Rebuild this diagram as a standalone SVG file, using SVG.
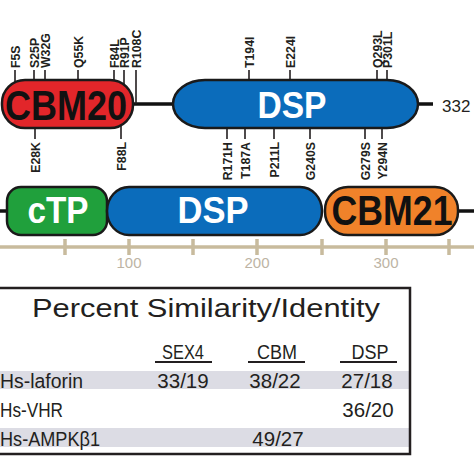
<svg xmlns="http://www.w3.org/2000/svg" width="474" height="474" viewBox="0 0 474 474">
<style>
.lbl{font-family:"Liberation Sans",Arial,sans-serif;font-weight:bold;font-size:12.3px;fill:#231f20}
.tick{stroke:#231f20;stroke-width:1.6;fill:none}
.conn{stroke:#111;stroke-width:3.5;fill:none}
.dom{stroke:#1a1a1a;stroke-width:2.5}
.big{font-family:"Liberation Sans",Arial,sans-serif;font-weight:bold;text-anchor:middle}
.axis{stroke:#c8bb9d;stroke-width:3.5;fill:none}
.axt{font-family:"Liberation Sans",Arial,sans-serif;font-size:15px;fill:#bdb4a4;text-anchor:middle}
.tb{font-family:"Liberation Sans",Arial,sans-serif;font-size:20.5px;fill:#231f20}
.title{font-family:"Liberation Sans",Arial,sans-serif;font-size:26px;fill:#231f20;text-anchor:middle}
.c{text-anchor:middle}
.ul{stroke:#231f20;stroke-width:1.8}
</style>

<g id="connectors">
  <line class="conn" x1="130" y1="104" x2="178" y2="104"/>
  <line class="conn" x1="415" y1="104" x2="433" y2="104"/>
  <line class="conn" x1="0" y1="211" x2="10" y2="211"/>
  <line class="conn" x1="455" y1="211" x2="474" y2="211"/>
</g>

<g id="mutation-ticks">
  <path class="tick" d="M15 70V100M34 70V100M45 70V100M78 70V100M114 70V100M124 70V100M136 70V104M249 70V100M290 70V100M377 70V100M387 70V100"/>
  <path class="tick" d="M35 108V139M121 108V139M227 108V139M245 108V139M274 108V139M310 108V139M365 108V139M382 108V139"/>
</g>

<g id="CBM20">
  <rect class="dom" x="2" y="80" width="131" height="48" rx="23" fill="#e2262a"/>
  <text class="big" x="66" y="120" font-size="43" fill="#111" textLength="122" lengthAdjust="spacingAndGlyphs">CBM20</text>
</g>

<g id="DSP-top">
  <path class="dom" fill="#0b6cbb" d="M205 80H387A31 24 0 0 1 387 128H205A32 24 0 0 1 205 80Z"/>
  <text class="big" x="292" y="118" font-size="37" fill="#fff" textLength="69" lengthAdjust="spacingAndGlyphs">DSP</text>
</g>

<text x="442" y="112" font-family="Liberation Sans,Arial,sans-serif" font-size="17" fill="#231f20">332</text>

<g id="labels-top">
  <text class="lbl" transform="translate(19.5,68) rotate(-90)">F5S</text>
  <text class="lbl" transform="translate(38.5,68) rotate(-90)">S25P</text>
  <text class="lbl" transform="translate(49.5,68) rotate(-90)">W32G</text>
  <text class="lbl" transform="translate(82.5,68) rotate(-90)">Q55K</text>
  <text class="lbl" transform="translate(118.5,68) rotate(-90)">F84L</text>
  <text class="lbl" transform="translate(128.5,68) rotate(-90)">R91P</text>
  <text class="lbl" transform="translate(140.5,68) rotate(-90)">R108C</text>
  <text class="lbl" transform="translate(253.5,68) rotate(-90)">T194I</text>
  <text class="lbl" transform="translate(294.5,68) rotate(-90)">E224I</text>
  <text class="lbl" transform="translate(381.5,68) rotate(-90)">Q293L</text>
  <text class="lbl" transform="translate(391.5,68) rotate(-90)">P301L</text>
</g>

<g id="labels-bottom" text-anchor="end">
  <text class="lbl" transform="translate(39.5,142) rotate(-90)">E28K</text>
  <text class="lbl" transform="translate(125.5,142) rotate(-90)">F88L</text>
  <text class="lbl" transform="translate(231.5,142) rotate(-90)">R171H</text>
  <text class="lbl" transform="translate(249.5,142) rotate(-90)">T187A</text>
  <text class="lbl" transform="translate(278.5,142) rotate(-90)">P211L</text>
  <text class="lbl" transform="translate(314.5,142) rotate(-90)">G240S</text>
  <text class="lbl" transform="translate(369.5,142) rotate(-90)">G279S</text>
  <text class="lbl" transform="translate(386.5,142) rotate(-90)">Y294N</text>
</g>

<g id="cTP">
  <rect class="dom" x="7" y="187" width="100" height="48" rx="14" fill="#20a03c"/>
  <text class="big" x="58" y="223" font-size="36" fill="#fff" textLength="61" lengthAdjust="spacingAndGlyphs">cTP</text>
</g>

<g id="DSP-bottom">
  <path class="dom" fill="#0b6cbb" d="M129 187H300A22 24 0 0 1 300 235H129A22 24 0 0 1 129 187Z"/>
  <text class="big" x="213" y="223" font-size="37" fill="#fff" textLength="71" lengthAdjust="spacingAndGlyphs">DSP</text>
</g>

<g id="CBM21">
  <rect class="dom" x="325" y="187" width="133" height="48" rx="23" fill="#f0822a"/>
  <text class="big" x="392" y="225" font-size="42" fill="#111" textLength="121" lengthAdjust="spacingAndGlyphs">CBM21</text>
</g>

<g id="axis">
  <line class="axis" x1="0" y1="247" x2="474" y2="247"/>
  <path class="axis" d="M65 239V255M129 239V255M193 239V255M257 239V255M322 239V255M386 239V255M449 239V255"/>
  <text class="axt" x="129" y="268">100</text>
  <text class="axt" x="257" y="268">200</text>
  <text class="axt" x="386" y="268">300</text>
</g>

<g id="table">
  <rect x="0" y="371" width="409" height="18" fill="#dcdce4"/>
  <rect x="0" y="428" width="409" height="19" fill="#dcdce4"/>
  <rect x="-3" y="288" width="413" height="166" fill="none" stroke="#231f20" stroke-width="2.5"/>
  <text class="title" x="206" y="317" textLength="348" lengthAdjust="spacingAndGlyphs">Percent Similarity/Identity</text>
  <text class="tb c" x="183" y="359" textLength="42" lengthAdjust="spacingAndGlyphs">SEX4</text>
  <text class="tb c" x="277" y="359" textLength="40" lengthAdjust="spacingAndGlyphs">CBM</text>
  <text class="tb c" x="370" y="359" textLength="37" lengthAdjust="spacingAndGlyphs">DSP</text>
  <line class="ul" x1="155" y1="362" x2="212" y2="362"/>
  <line class="ul" x1="248" y1="362" x2="305" y2="362"/>
  <line class="ul" x1="340" y1="362" x2="397" y2="362"/>
  <text class="tb" x="0" y="388" textLength="83" lengthAdjust="spacingAndGlyphs">Hs-laforin</text>
  <text class="tb c" x="183" y="388">33/19</text>
  <text class="tb c" x="275" y="388">38/22</text>
  <text class="tb c" x="367" y="388">27/18</text>
  <text class="tb" x="0" y="417" textLength="63" lengthAdjust="spacingAndGlyphs">Hs-VHR</text>
  <text class="tb c" x="368" y="417">36/20</text>
  <text class="tb" x="0" y="446" textLength="100" lengthAdjust="spacingAndGlyphs">Hs-AMPKβ1</text>
  <text class="tb c" x="278" y="446">49/27</text>
</g>
</svg>
